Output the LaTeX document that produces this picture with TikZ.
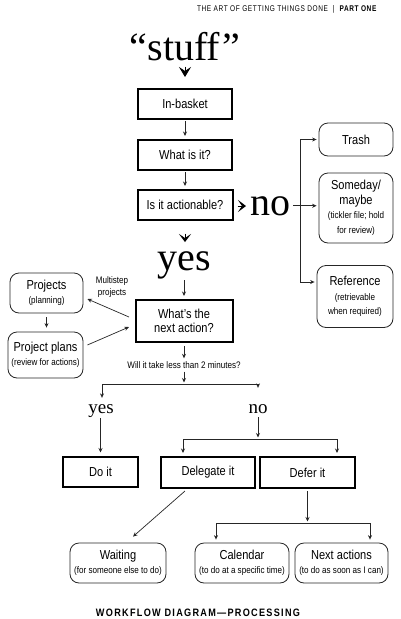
\documentclass[tikz,border=0pt]{standalone}
\usepackage{graphicx}
\usepackage{fontspec}
\setmainfont{Liberation Sans}[FakeStretch=0.85]
\newfontfamily\bigserif{Liberation Serif}
\usetikzlibrary{arrows.meta,calc}
\newcommand\mysub{\fontsize{9.5}{14.5}\selectfont}
\begin{document}
\begin{tikzpicture}[x=1pt,y=-1pt,
  sqbox/.style={draw, line width=2pt, inner sep=0pt, align=center, font=\fontsize{13}{14.5}\selectfont},
  rbox/.style={draw=black!85, line width=0.8pt, rounded corners=9pt, inner sep=0pt, align=center, font=\fontsize{13}{14.5}\selectfont},
  conn/.style={draw=black!85, line width=0.7pt},
  arr/.style={conn, -{Stealth[length=4.5pt,width=4pt]}, shorten >=2pt},
  chevtip/.style={line width=1pt, -{Stealth[length=#1,width=12pt,inset=4pt]}},
  chevtip/.default=9pt,
  bigword/.style={font=\bigserif\fontsize{40}{40}\selectfont, inner sep=0pt},
  midword/.style={font=\bigserif\fontsize{19}{19}\selectfont, inner sep=0pt},
  small/.style={font=\fontsize{9.5}{12}\selectfont, inner sep=0pt, align=center}
]
\useasboundingbox (0,0) rectangle (400,619);
\fill[white] (0,0) rectangle (400,619);

% header and footer
\node[anchor=base, inner sep=0pt] (header) at (287,11)
  {\resizebox{180pt}{6pt}{\addfontfeature{LetterSpace=8}THE ART OF GETTING THINGS DONE\hspace{0.6em}|\hspace{0.6em}\textbf{PART ONE}}};
\node[anchor=base, inner sep=0pt] (footer) at (198,616)
  {\resizebox{204pt}{7.5pt}{\bfseries\addfontfeature{LetterSpace=12}WORKFLOW DIAGRAM—PROCESSING}};

% main column
\node[bigword, anchor=base] (stuff) at (185,60) {“stuff\kern2pt”};
\node[sqbox, minimum width=94pt, minimum height=30pt] (inbasket) at (185,104) {In-basket};
\node[sqbox, minimum width=94pt, minimum height=30pt] (whatis) at (185,155) {What is it?};
\node[sqbox, minimum width=95pt, minimum height=30pt] (actionable) at (185,205) {Is it actionable?};
\node[bigword, anchor=base west] (no) at (250,215) {no};
\node[bigword, anchor=base] (yes) at (184,270) {yes};

\draw[chevtip=10pt] ($(inbasket.north)+(0,-21.5)$) -- ($(inbasket.north)+(0,-11)$);
\draw[arr, shorten <=1pt, shorten >=3pt] (inbasket.south) -- (whatis.north);
\draw[arr, shorten <=1pt, shorten >=3pt] (whatis.south) -- (actionable.north);
\draw[chevtip=8pt] ($(actionable.east)+(4,1)$) -- ($(actionable.east)+(12.5,1)$);
\draw[chevtip=8pt] ($(actionable.south)+(0,12.5)$) -- ($(actionable.south)+(0,21)$);

% right column
\node[rbox, minimum width=74pt, minimum height=33pt] (trash) at (356,139.5) {Trash};
\node[rbox, minimum width=74pt, minimum height=70pt] (someday) at (356,208)
  {Someday/\\maybe\\\mysub(tickler file; hold\\\mysub for review)};
\node[rbox, minimum width=76pt, minimum height=62pt] (reference) at (355,296.5)
  {Reference\\\mysub(retrievable\\\mysub when required)};
\coordinate (nx) at (300,206);
\coordinate (refin) at ($(reference.west)+(0,-14.5)$);
\draw[arr, shorten <=3pt] (no.east) -- (no.east -| someday.west);
\draw[arr] (refin -| nx) -- (trash.west -| nx) -- (trash.west);
\draw[arr] (refin -| nx) -- (refin);

% next action
\node[sqbox, minimum width=97pt, minimum height=42pt, font=\fontsize{13}{14}\selectfont] (nextact) at (184,321) {What’s the\\next action?};
\draw[arr, shorten <=1.5pt, shorten >=3pt] (yes.south) -- (nextact.north);

\node[rbox, minimum width=73pt, minimum height=40pt] (projects) at (46.5,293) {Projects\\\mysub(planning)};
\node[rbox, minimum width=75pt, minimum height=46pt] (plans) at (45.5,355) {Project plans\\\mysub(review for actions)};
\node[small] (multi) at (112,287) {Multistep\\projects};
\draw[arr, shorten <=4pt, shorten >=4pt] (projects.south) -- (projects.south |- plans.north);
\draw[arr, shorten >=0pt] ($(nextact.west)+(-5.5,-4)$) -- ($(projects.east)+(4,6)$);
\draw[arr, shorten >=0pt] ($(plans.east)+(4,-10)$) -- ($(nextact.west)+(-5.5,6)$);

% two-minute question
\node[small] (question) at (184,365) {Will it take less than 2 minutes?};
\draw[arr, shorten <=3pt, shorten >=3pt] (nextact.south) -- (question.north);
\coordinate (qM) at (184,384);
\coordinate (qL) at (102,384);
\coordinate (qR) at (258,384);
\draw[arr, shorten <=3pt, shorten >=1.5pt] (question.south) -- (qM);
\draw[conn] (qL) -- (qR);
\node[midword, anchor=base] (yes2) at (101,413) {yes};
\node[midword, anchor=base] (no2) at (258,413) {no};
\draw[arr, shorten >=6pt] (qL) -- (qL |- yes2.north);
\draw[arr, shorten >=16pt] (qR) -- (qR |- no2.north);

% do / delegate / defer
\node[sqbox, minimum width=75pt, minimum height=30pt] (doit) at (100.5,472) {Do it};
\node[sqbox, minimum width=94pt, minimum height=31pt] (delegate) at (208,472.5) {Delegate it};
\node[sqbox, minimum width=95pt, minimum height=31pt] (defer) at (307.5,472.5) {Defer it};
\coordinate (dL) at (183,439);
\coordinate (dR) at (337,439);
\draw[arr, shorten <=1pt, shorten >=3.5pt] (yes2.south -| doit.north) -- (doit.north);
\draw[arr, shorten <=4pt, shorten >=1.5pt] (no2.south) -- (no2.south |- dL);
\draw[conn] (dL) -- (dR);
\draw[arr, shorten >=3pt] (dL) -- (dL |- delegate.north);
\draw[arr, shorten >=3pt] (dR) -- (dR |- defer.north);

% end boxes
\node[rbox, minimum width=96pt, minimum height=40pt] (waiting) at (118,563) {Waiting\\\mysub(for someone else to do)};
\node[rbox, minimum width=94pt, minimum height=40pt] (calendar) at (242,563) {Calendar\\\mysub(to do at a specific time)};
\node[rbox, minimum width=93pt, minimum height=40pt] (nextactions) at (341.5,563) {Next actions\\\mysub(to do as soon as I can)};
\coordinate (eM) at (307.5,523);
\coordinate (eL) at (216,523);
\coordinate (eR) at (370,523);
\draw[arr, shorten >=0pt] ($(delegate.south)+(-23,2)$) -- ($(waiting.north)+(15,-6)$);
\draw[arr, shorten <=2pt, shorten >=1.5pt] (defer.south) -- (eM);
\draw[conn] (eL) -- (eR);
\draw[arr, shorten >=3pt] (eL) -- (eL |- calendar.north);
\draw[arr, shorten >=3pt] (eR) -- (eR |- nextactions.north);
\end{tikzpicture}
\end{document}
